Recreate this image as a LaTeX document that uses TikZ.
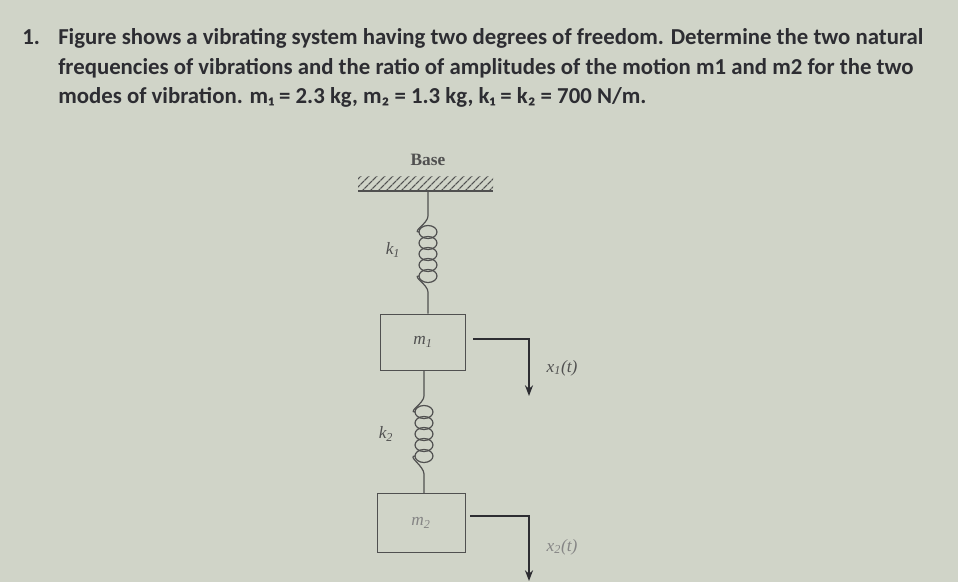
\documentclass[tikz,border=0pt]{standalone}
\usepackage{fontspec}
\setmainfont{Carlito}
\newfontfamily\figfont{Liberation Serif}
\usetikzlibrary{patterns.meta,arrows.meta}
\definecolor{bgc}{RGB}{208,212,200}
\definecolor{ink}{RGB}{45,45,50}
\definecolor{fig}{RGB}{80,80,80}
\tikzset{
  txt/.style={anchor=west,inner sep=0pt,text=ink,font=\fontsize{17.1}{19}\selectfont},
  mass/.style={draw=fig,line width=0.6pt,inner sep=0pt},
  lbl/.style={text=fig,font=\figfont\itshape\fontsize{13}{14}\selectfont,inner sep=0pt},
  wire/.style={draw=fig,line width=0.9pt},
  disp/.style={draw=ink,line width=2pt,-{Stealth[length=8pt,width=6pt]}}
}
\begin{document}
\begin{tikzpicture}[x=0.75pt,y=-0.75pt]
\fill[bgc] (0,0) rectangle (958,582);
\useasboundingbox (0,0) rectangle (958,582);
\node[txt] (n) at (22,37) {\textbf{1.}};
\node[txt] (l1) at (58,38) {\textbf{Figure shows a vibrating system having two degrees of freedom. Determine the two natural}};
\node[txt] (l2) at (58,68) {\textbf{frequencies of vibrations and the ratio of amplitudes of the motion m1 and m2 for the two}};
\node[txt] (l3) at (58,97) {\textbf{modes of vibration. m₁ = 2.3 kg, m₂ = 1.3 kg, k₁ = k₂ = 700 N/m.}};
% base
\node[text=fig,font=\figfont\bfseries\fontsize{13}{14}\selectfont] (base) at (428,160) {Base};
\fill[pattern={Lines[angle=45,distance=4pt,line width=1pt]},pattern color=fig] (358,176) rectangle (493,191);
\draw[fig,line width=1.2pt] (358,191) -- (493,191);
\coordinate (b) at (428,191);
% masses
\node[mass,minimum width=64pt,minimum height=42pt] (m1) at (423,342) {};
\node[lbl] at (m1) {m\textsubscript{1}};
\node[mass,minimum width=66pt,minimum height=44pt] (m2) at (421,523) {};
\node[lbl,text=fig!70] at (m2) {m\textsubscript{2}};
% spring 1
\coordinate (s1a) at (428,216); \coordinate (s1b) at (428,292);
\draw[wire] (b) -- (s1a) to[out=-90,in=180] (419,232);
\foreach \i in {0,...,4} \draw[wire] (428,{232+11*\i}) ellipse [x radius=9,y radius=6.5];
\draw[wire] (419,276) to[out=180,in=90] (s1b) -- (m1.north -| s1b);
\node[lbl] at (393,250) {k\textsubscript{1}};
% spring 2
\coordinate (s2a) at (424,396); \coordinate (s2b) at (424,474);
\draw[wire] (m1.south -| s2a) -- (s2a) to[out=-90,in=180] (415,412);
\foreach \i in {0,...,4} \draw[wire] (424,{412+11*\i}) ellipse [x radius=9,y radius=6.5];
\draw[wire] (415,456) to[out=180,in=90] (s2b) -- (m2.north -| s2b);
\node[lbl] at (386,434) {k\textsubscript{2}};
% displacement arrows
\coordinate (a1) at (473,339); \coordinate (c1) at (529,339); \coordinate (e1) at (529,396);
\draw[disp] (a1) -- (c1) -- (e1);
\node[lbl] at (562,368) {x\textsubscript{1}(t)};
\coordinate (a2) at (470,516); \coordinate (c2) at (529,516); \coordinate (e2) at (529,581);
\draw[disp] (a2) -- (c2) -- (e2);
\node[lbl,text=fig!70] at (562,547) {x\textsubscript{2}(t)};
\end{tikzpicture}
\end{document}
